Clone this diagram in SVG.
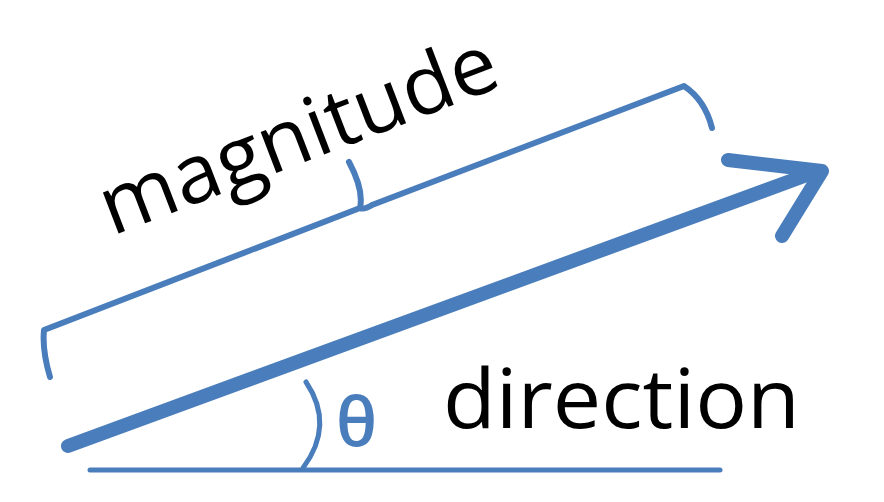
<svg xmlns="http://www.w3.org/2000/svg" width="884" height="502" viewBox="0 0 884 502">
<style>.b{fill:none;stroke:#4a7dbb;stroke-linecap:round;stroke-linejoin:round}</style>
<rect width="884" height="502" fill="#fff"/>
<g id="connectors">
<path class="b" d="M90,470 L720,470" stroke-width="5"/>
<path class="b" d="M68,446 L815,172" stroke-width="14"/>
<path class="b" d="M728,160 L822,171 L782,236" stroke-width="14"/>
<path class="b" d="M303,468 Q335,425 306,382" stroke-width="5"/>
<path class="b" d="M50,377 Q42,350 44,330 L360,208 Q364,190 349,162 M360,208 Q364,210 372,205 L684,86 Q705,100 712,128" stroke-width="6"/>
</g>
<g id="magnitude"><text x="0" y="0" transform="translate(112,236) rotate(-21)" font-family="Open Sans, sans-serif" font-size="82" textLength="420" lengthAdjust="spacingAndGlyphs" fill="#000">magnitude</text></g>
<g id="theta"><text x="336" y="446" font-family="Open Sans, sans-serif" font-size="68" font-weight="600" fill="#4a7dbb">θ</text></g>
<g id="direction"><text x="443" y="428" font-family="Open Sans, sans-serif" font-size="82" textLength="357" lengthAdjust="spacingAndGlyphs" fill="#000">direction</text></g>
</svg>
